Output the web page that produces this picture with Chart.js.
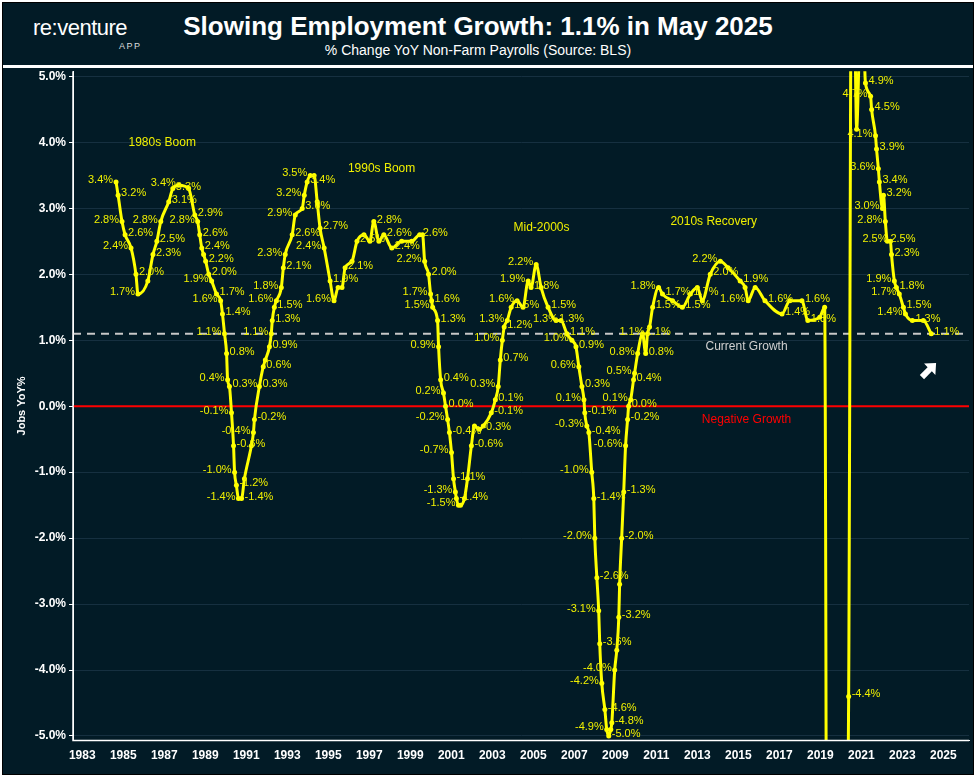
<!DOCTYPE html>
<html><head><meta charset="utf-8">
<script src="https://cdn.jsdelivr.net/npm/chart.js@4/dist/chart.umd.min.js"></script>
<style>
html,body{margin:0;padding:0;background:#fff;}
#wrap{position:absolute;left:2px;top:2px;width:970px;height:771px;background:#021b26;border:1px solid #000;}
#hdr{position:absolute;left:0;top:0;width:970px;height:62px;border-bottom:3px solid #fff;}
#logo{position:absolute;left:30px;top:12px;color:#fff;font:22px "Liberation Sans",Arial,sans-serif;letter-spacing:-0.5px;}
#app{position:absolute;left:116px;top:38px;color:#ddd;font:9px "Liberation Sans",Arial,sans-serif;letter-spacing:1.5px;}
#title{position:absolute;left:0;width:970px;text-align:center;top:8px;color:#fff;font:bold 26px "Liberation Sans",Arial,sans-serif;margin-left:-10px;}
#sub{position:absolute;left:0;width:970px;text-align:center;top:39px;color:#fff;font:14px "Liberation Sans",Arial,sans-serif;margin-left:-10px;}
#c{position:absolute;left:0;top:58px;}
</style></head><body>
<div id="wrap">
<div id="hdr"><div id="logo">re:venture</div><div id="app">APP</div>
<div id="title">Slowing Employment Growth: 1.1% in May 2025</div>
<div id="sub">% Change YoY Non-Farm Payrolls (Source: BLS)</div></div>
<canvas id="c" width="970" height="713"></canvas>
</div>
<script>
const years=[1984.65,1984.75,1984.94,1985.09,1985.38,1985.62,1985.72,1986.2,1986.45,1986.64,1986.83,1987.22,1987.42,1987.71,1988.19,1988.49,1988.63,1988.73,1988.83,1988.92,1989.02,1989.17,1989.31,1989.55,1989.75,1989.84,1989.94,1990.04,1990.09,1990.18,1990.28,1990.38,1990.43,1990.52,1990.62,1990.77,1990.91,1991.25,1991.35,1991.40,1991.64,1991.83,1991.93,1992.13,1992.22,1992.27,1992.37,1992.47,1992.71,1992.81,1992.90,1993.24,1993.39,1993.73,1993.83,1993.97,1994.12,1994.31,1994.46,1994.60,1994.80,1995.09,1995.28,1995.48,1995.67,1995.82,1996.16,1996.40,1996.74,1997.03,1997.22,1997.47,1997.71,1998.10,1998.58,1999.07,1999.46,1999.60,1999.70,1999.89,1999.99,2000.04,2000.09,2000.33,2000.38,2000.48,2000.62,2000.72,2000.82,2000.91,2001.01,2001.11,2001.20,2001.25,2001.35,2001.45,2001.64,2001.79,2001.98,2002.13,2002.37,2002.56,2002.95,2003.15,2003.29,2003.39,2003.49,2003.58,2003.73,2003.92,2004.21,2004.50,2004.75,2004.89,2005.14,2005.38,2005.72,2006.11,2006.35,2006.64,2006.88,2007.08,2007.22,2007.37,2007.47,2007.51,2007.61,2007.71,2007.85,2007.95,2008.00,2008.10,2008.19,2008.24,2008.34,2008.49,2008.58,2008.68,2008.78,2008.83,2008.97,2009.07,2009.17,2009.21,2009.31,2009.41,2009.50,2009.60,2009.65,2009.75,2009.89,2009.94,2010.09,2010.33,2010.48,2010.57,2010.67,2010.82,2011.11,2011.30,2011.79,2012.27,2012.66,2013.00,2013.24,2013.63,2014.12,2014.50,2015.09,2015.33,2015.48,2015.82,2016.30,2017.13,2017.51,2018.10,2018.39,2018.97,2019.21,2019.36,2019.94,2020.38,2020.52,2020.67,2020.77,2020.91,2021.06,2021.20,2021.45,2021.50,2021.69,2021.74,2021.83,2021.88,2022.03,2022.08,2022.17,2022.27,2022.42,2022.47,2022.61,2022.71,2022.85,2023.05,2023.15,2023.49,2024.02,2024.41];
const jobsYoY=[3.4,3.2,2.8,2.6,2.4,2.0,1.7,1.9,2.3,2.5,2.8,3.1,3.3,3.35,3.3,2.9,2.8,2.6,2.4,2.3,2.2,2.0,1.9,1.7,1.6,1.4,1.1,0.8,0.4,0.3,-0.1,-0.6,-1.0,-1.2,-1.4,-1.4,-1.1,-0.6,-0.4,-0.2,0.3,0.6,0.7,0.9,1.1,1.3,1.5,1.6,1.8,2.1,2.3,2.6,2.9,3.0,3.2,3.4,3.5,3.5,3.1,2.7,2.4,1.9,1.6,1.8,1.8,2.1,2.2,2.5,2.6,2.5,2.8,2.5,2.6,2.4,2.5,2.5,2.6,2.6,2.2,2.0,1.7,1.6,1.5,1.3,0.9,0.4,0.2,0.0,-0.2,-0.4,-0.7,-1.1,-1.3,-1.4,-1.5,-1.5,-1.4,-1.1,-0.6,-0.3,-0.35,-0.3,-0.1,0.1,0.3,0.7,1.0,1.2,1.3,1.5,1.6,1.5,1.9,1.8,2.15,1.8,1.5,1.3,1.3,1.1,1.0,0.9,0.6,0.3,0.1,-0.1,-0.3,-0.4,-1.0,-1.4,-2.0,-2.6,-3.1,-3.6,-4.2,-4.6,-4.9,-5.0,-4.9,-4.8,-4.0,-3.7,-3.2,-2.7,-2.0,-1.3,-0.6,-0.2,0.0,0.1,0.4,0.5,0.8,1.1,0.8,1.1,1.2,1.5,1.8,1.7,1.6,1.5,1.7,1.8,1.6,2.0,2.2,2.1,1.9,1.8,1.6,1.8,1.6,1.4,1.6,1.6,1.3,1.35,1.5,-13.0,-12.0,-4.4,7.0,6.0,4.2,5.5,6.0,4.9,4.7,4.5,4.1,3.9,3.6,3.4,3.0,3.2,2.8,2.5,2.5,2.3,1.9,1.8,1.7,1.5,1.4,1.3,1.3,1.1];
const xTickLabels=[1983,1985,1987,1989,1991,1993,1995,1997,1999,2001,2003,2005,2007,2009,2011,2013,2015,2017,2019,2021,2023,2025];
const yTicks=[-5,-4,-3,-2,-1,0,1,2,3,4,5];
const currentGrowth=1.1;
const eras=[{t:"1980s Boom",x:1986.9,y:4.0},{t:"1990s Boom",x:1997.6,y:3.6},{t:"Mid-2000s",x:2005.4,y:2.7},{t:"2010s Recovery",x:2013.8,y:2.8}];
const noLabel=new Set([-13.0,-12.0,7.0,6.0,5.5,4.2]);

const overlay={id:'overlay',
 beforeDatasetsDraw(ch){const {ctx,chartArea:a,scales:{x,y}}=ch;
  ctx.save();
  let yy=y.getPixelForValue(currentGrowth);
  ctx.strokeStyle='#c8c8c8';ctx.lineWidth=2;ctx.setLineDash([8,6]);
  ctx.beginPath();ctx.moveTo(a.left,yy);ctx.lineTo(a.right,yy);ctx.stroke();
  ctx.setLineDash([]);
  let y0=y.getPixelForValue(0);
  ctx.strokeStyle='#ff0000';ctx.lineWidth=2;
  ctx.beginPath();ctx.moveTo(a.left,y0);ctx.lineTo(a.right,y0);ctx.stroke();
  ctx.font='12px "Liberation Sans",Arial';ctx.textAlign='center';ctx.textBaseline='middle';
  ctx.fillStyle='#d0d0d0';ctx.fillText('Current Growth',x.getPixelForValue(2015.4),yy+13);
  ctx.fillStyle='#ff0000';ctx.fillText('Negative Growth',x.getPixelForValue(2015.4),y0+13);
  ctx.fillStyle='#f0f000';
  eras.forEach(e=>ctx.fillText(e.t,x.getPixelForValue(e.x),y.getPixelForValue(e.y)));
  ctx.restore();},
 afterDatasetsDraw(ch){const {ctx,chartArea:a,scales:{x,y}}=ch;
  const meta=ch.getDatasetMeta(0);
  ctx.save();ctx.font='11px "Liberation Sans",Arial';ctx.fillStyle='#f0f000';ctx.textBaseline='middle';
  const boxes=[];
  const hit=b=>boxes.some(o=>b.l<o.r&&b.r>o.l&&b.t<o.b&&b.b>o.t);
  meta.data.forEach((p,i)=>{const v=jobsYoY[i];if(noLabel.has(v))return;
   const s=(Math.round(v*10)/10).toFixed(1)+'%';
   const w=ctx.measureText(s).width;
   const pref=i%2===1;
   for(const right of [pref,!pref]){
    const l=right?p.x+3:p.x-3-w;
    const b={l:l,r:l+w,t:p.y-8,b:p.y+4};
    if(hit(b))continue;
    boxes.push(b);ctx.textAlign='left';ctx.fillText(s,l,p.y-2);break;}
  });
  const ax=x.getPixelForValue(2024.3),ay=y.getPixelForValue(0.55);
  ctx.translate(ax,ay);ctx.rotate(Math.PI/4);ctx.fillStyle='#fff';
  ctx.beginPath();ctx.moveTo(0,-10);ctx.lineTo(8,-1);ctx.lineTo(3,-1);ctx.lineTo(3,10);ctx.lineTo(-3,10);ctx.lineTo(-3,-1);ctx.lineTo(-8,-1);ctx.closePath();ctx.fill();
  ctx.restore();
  ctx.save();ctx.strokeStyle='#fff';ctx.lineWidth=1.5;
  ctx.beginPath();ctx.moveTo(a.left,a.top);ctx.lineTo(a.left,a.bottom);ctx.lineTo(a.right,a.bottom);ctx.stroke();ctx.restore();
 }};

new Chart(document.getElementById('c'),{type:'line',
 data:{datasets:[{data:years.map((t,i)=>({x:t,y:jobsYoY[i]})),borderColor:'#ffff00',borderWidth:3,
  pointRadius:2.5,pointBackgroundColor:'#ffff00',pointBorderWidth:0,cubicInterpolationMode:'monotone'}]},
 options:{responsive:false,animation:false,
  layout:{padding:{top:0,right:0,bottom:8,left:8}},
  plugins:{legend:{display:false},tooltip:{enabled:false}},
  scales:{
   x:{type:'linear',min:1982.55,max:2026.25,
     afterBuildTicks(s){const t=[];for(let yv=1983;yv<=2026;yv++)t.push({value:yv});s.ticks=t;},
     ticks:{autoSkip:false,maxRotation:0,color:'#fff',font:{size:12,weight:'bold',family:'"Liberation Sans Narrow","Liberation Sans",Arial'},
      callback:v=>xTickLabels.includes(v)?String(v):''},
     grid:{display:false,drawTicks:true,tickLength:5,color:'#fff',drawOnChartArea:false},border:{color:'#fff'}},
   y:{min:-5.07,max:5.08,
     afterBuildTicks(s){s.ticks=yTicks.map(v=>({value:v}));},
     afterFit(s){s.width=62;},
     title:{display:true,text:'Jobs YoY%',color:'#fff',font:{size:11,weight:'bold'}},
     ticks:{color:'#fff',font:{size:12,weight:'bold',family:'"Liberation Sans Narrow","Liberation Sans",Arial'},callback:v=>v.toFixed(1)+'%'},
     grid:{color:'#163040',lineWidth:1,tickLength:4,tickColor:'#fff'},border:{color:'#fff'}}}},
 plugins:[overlay]});
</script></body></html>
